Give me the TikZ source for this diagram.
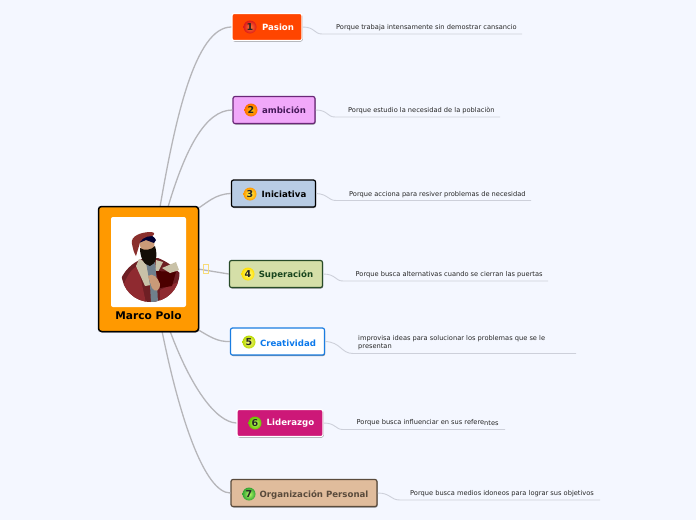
\documentclass[tikz,border=0pt]{standalone}
\usepackage{fontspec}
\setmainfont{DejaVu Sans}
\usetikzlibrary{shadows}
\definecolor{mapback}{HTML}{F4F7FF}
\definecolor{trunkline}{HTML}{B6B6BA}
\definecolor{leafline}{HTML}{CDD0DA}
\definecolor{robedark}{HTML}{6E1F24}
\definecolor{robelight}{HTML}{8F2A30}
\definecolor{collar}{HTML}{C9C2A8}
\definecolor{stripe}{HTML}{6F7F8C}
\definecolor{skin}{HTML}{C99A78}
\definecolor{hatred}{HTML}{8A2F2C}
\tikzset{
  topicbox/.style={draw,rounded corners=2pt,line width=1.2pt,inner sep=0pt,minimum height=27pt,
    drop shadow={shadow xshift=0.6pt,shadow yshift=-1pt,opacity=0.45,fill=black}},
  topictext/.style={inner sep=0pt,font=\fontsize{8.6}{10}\selectfont\bfseries},
  numball/.style={circle,inner sep=0pt,minimum size=13pt,shading=radial,font=\fontsize{9.5}{10}\selectfont\bfseries,text=black!85},
  leaftext/.style={inner sep=0pt,anchor=west,align=left,text=black!85,font=\fontsize{6.65}{8}\selectfont},
  trunk/.style={draw=trunkline,line width=1.3pt},
  leaf/.style={draw=leafline,line width=0.9pt},
}
\begin{document}
\begin{tikzpicture}[x=1pt,y=1pt]
\useasboundingbox (0,0) rectangle (696,-520);
\fill [mapback] (0,0) rectangle (696,-520);
% root
\coordinate (rootA) at (160,-207);
\coordinate (rootB) at (168,-207);
\coordinate (rootC) at (197,-209);
\coordinate (rootD) at (198,-269);
\coordinate (rootE) at (197,-329);
\coordinate (rootF) at (170,-331);
\coordinate (rootG) at (162,-331);
% topics
\node [topicbox,draw=white,fill={rgb,255:red,255;green,69;blue,0},minimum width=70pt] (pasion) at (267,-27) {};
\node [topicbox,draw={rgb,255:red,106;green,40;blue,120},fill={rgb,255:red,241;green,168;blue,250},minimum width=82pt] (ambicion) at (274,-110) {};
\node [topicbox,draw=black,fill={rgb,255:red,184;green,204;blue,228},minimum width=84pt] (iniciativa) at (273.5,-193.5) {};
\node [topicbox,draw={rgb,255:red,40;green,75;blue,40},fill={rgb,255:red,213;green,223;blue,168},minimum width=93pt] (superacion) at (276,-274) {};
\node [topicbox,draw={rgb,255:red,26;green,125;blue,225},fill=white,minimum width=94pt] (creatividad) at (277.5,-341.5) {};
\node [topicbox,draw=white,fill={rgb,255:red,205;green,24;blue,120},minimum width=86pt] (liderazgo) at (280,-423) {};
\node [topicbox,draw={rgb,255:red,90;green,75;blue,60},fill={rgb,255:red,224;green,188;blue,156},minimum width=146pt] (organizacion) at (304,-493) {};
% trunk lines
\draw [trunk] (rootA) .. controls (175,-120) and (195,-27) .. (pasion.west);
\draw [trunk] (rootB) .. controls (185,-150) and (205,-110) .. (ambicion.west);
\draw [trunk] (rootC) .. controls (207,-203) and (215,-194) .. (iniciativa.west);
\draw [trunk] (rootD) -- (superacion.west);
\draw [trunk] (rootE) .. controls (210,-337) and (218,-342) .. (creatividad.west);
\draw [trunk] (rootF) .. controls (190,-385) and (215,-422) .. (liderazgo.west);
\draw [trunk] (rootG) .. controls (180,-420) and (205,-493) .. (organizacion.west);
\node [topicbox,rounded corners=3pt,draw=black,line width=1.5pt,fill={rgb,255:red,255;green,153;blue,0},minimum width=100pt,minimum height=125pt] (root) at (148.5,-269) {};
\node [fill=white,rounded corners=2pt,inner sep=0pt,minimum width=75pt,minimum height=90pt] (photo) at (148.5,-262) {};
\node [inner sep=0pt,font=\fontsize{10.6}{12}\selectfont\bfseries] (rootname) at (148.5,-316) {Marco Polo};
% portrait
\begin{scope}
\clip (150.5,-273) circle (29);
\fill [robedark] (118,-285) .. controls (124,-270) and (132,-263) .. (142,-259) -- (158,-258) .. controls (168,-262) and (176,-268) .. (182,-276) -- (182,-305) -- (118,-305) -- cycle;
\fill [robelight] (122,-290) .. controls (126,-276) and (132,-268) .. (138,-266) -- (146,-303) -- (122,-305) -- cycle;
\fill [robelight] (160,-290) -- (178,-282) -- (180,-303) -- (160,-305) -- cycle;
\fill [collar] (139,-259) -- (146,-262) -- (151,-285) -- (145,-286) -- (136,-266) -- cycle;
\fill [collar] (156,-260) -- (163,-262) -- (158,-272) -- (155,-270) -- cycle;
\fill [stripe] (146,-262) -- (155,-262) -- (157,-283) -- (158,-303) -- (151,-303) -- (150,-285) -- cycle;
\end{scope}
\fill [skin] (140,-240) .. controls (139,-248) and (142,-254) .. (148,-255) .. controls (154,-254) and (155,-247) .. (154,-238) -- cycle;
\fill [black!90!brown] (140,-248) .. controls (140,-256) and (143,-265) .. (150,-266) .. controls (156,-264) and (158,-256) .. (155,-246) .. controls (152,-250) and (144,-251) .. cycle;
\fill [black!80!blue] (139,-243) .. controls (141,-234) and (152,-232) .. (156,-240) -- (154,-243) -- (146,-240) -- cycle;
\fill [hatred] (132,-244) .. controls (130,-236) and (141,-232) .. (151,-232) .. controls (155,-232) and (155,-235) .. (152,-236) .. controls (145,-236) and (139,-240) .. (139,-246) -- (136,-256) .. controls (134,-253) and (133,-249) .. cycle;
\fill [black!70!red] (156,-271) -- (176,-272) -- (172,-286) -- (160,-288) -- cycle;
\fill [collar] (162,-268) -- (176,-262) -- (179,-270) -- (170,-273) -- cycle;
\fill [skin] (148,-276) .. controls (153,-272) and (158,-278) .. (160,-284) .. controls (160,-291) and (155,-293) .. (152,-288) -- cycle;
% number balls
\node [numball,inner color=orange!70!red!80!white,outer color=red!85!black!90] (ballA) at (250,-27) {1};
\node [numball,inner color=orange!45!yellow,outer color=orange!85!red] (ballB) at (251,-110) {2};
\node [numball,inner color=yellow!70!white,outer color=orange!80!yellow] (ballC) at (250,-194) {3};
\node [numball,inner color=yellow!45!white,outer color=yellow!75!orange] (ballD) at (248,-274) {4};
\node [numball,inner color=yellow!45!white,outer color=yellow!85!green!85!black] (ballE) at (249,-342) {5};
\node [numball,inner color=yellow!60!green!60!white,outer color=green!45!yellow!75!black] (ballF) at (255,-423) {6};
\node [numball,inner color=green!45!yellow!60!white,outer color=green!55!black!80] (ballG) at (249,-494) {7};
% topic names
\node [topictext,text=white] (namA) at (278,-27.5) {Pasion};
\node [topictext,text={rgb,255:red,70;green,25;blue,90}] (namB) at (284,-110.5) {ambición};
\node [topictext,text=black] (namC) at (284,-194.5) {Iniciativa};
\node [topictext,text={rgb,255:red,25;green,70;blue,30}] (namD) at (286,-275) {Superación};
\node [topictext,text={rgb,255:red,10;green,120;blue,235}] (namE) at (288,-343) {Creatividad};
\node [topictext,text=white] (namF) at (290.5,-423.5) {Liderazgo};
\node [topictext,text={rgb,255:red,90;green,75;blue,60}] (namG) at (314,-494.5) {Organización Personal};
% leaves
\coordinate (leafA) at (322,-34);   \coordinate (endA) at (522,-34);
\coordinate (leafB) at (335,-117);  \coordinate (endB) at (500,-117);
\coordinate (leafC) at (336,-200.5); \coordinate (endC) at (531,-200.5);
\coordinate (leafD) at (343,-281);  \coordinate (endD) at (548,-281);
\coordinate (leafE) at (353,-353.5); \coordinate (endE) at (576,-353.5);
\coordinate (leafF) at (343,-429.5); \coordinate (endF) at (505,-429.5);
\coordinate (leafG) at (400,-500);  \coordinate (endG) at (600,-500);
\draw [leaf] (pasion.east) .. controls (315,-27) and (314,-34) .. (leafA) -- (endA);
\draw [leaf] (ambicion.east) .. controls (328,-110) and (327,-117) .. (leafB) -- (endB);
\draw [leaf] (iniciativa.east) .. controls (328,-194) and (328,-200.5) .. (leafC) -- (endC);
\draw [leaf] (superacion.east) .. controls (336,-274) and (335,-281) .. (leafD) -- (endD);
\draw [leaf] (creatividad.east) .. controls (341,-342) and (341,-353.5) .. (leafE) -- (endE);
\draw [leaf] (liderazgo.east) .. controls (336,-423) and (335,-429.5) .. (leafF) -- (endF);
\draw [leaf] (organizacion.east) .. controls (391,-493) and (390,-500) .. (leafG) -- (endG);
\node [leaftext] (textA) at (336,-28) {Porque trabaja intensamente sin demostrar cansancio};
\node [leaftext] (textB) at (348,-111) {Porque estudio la necesidad de la poblaciòn};
\node [leaftext] (textC) at (349,-195) {Porque acciona para resiver problemas de necesidad};
\node [leaftext] (textD) at (355.5,-275) {Porque busca alternativas cuando se cierran las puertas};
\node [leaftext] (textE) at (358,-343) {improvisa ideas para solucionar los problemas que se le\\presentan};
\node [leaftext] (textF) at (356.5,-423) {Porque busca influenciar en sus refere\raisebox{-0.8pt}{ntes}};
\node [leaftext] (textG) at (410,-494) {Porque busca medios idoneos para lograr sus objetivos};
% small marker beside root
\node [draw={rgb,255:red,248;green,220;blue,120},line width=0.8pt,inner sep=0pt,minimum width=5.5pt,minimum height=9pt] (marker) at (206,-269) {};
\end{tikzpicture}
\end{document}
